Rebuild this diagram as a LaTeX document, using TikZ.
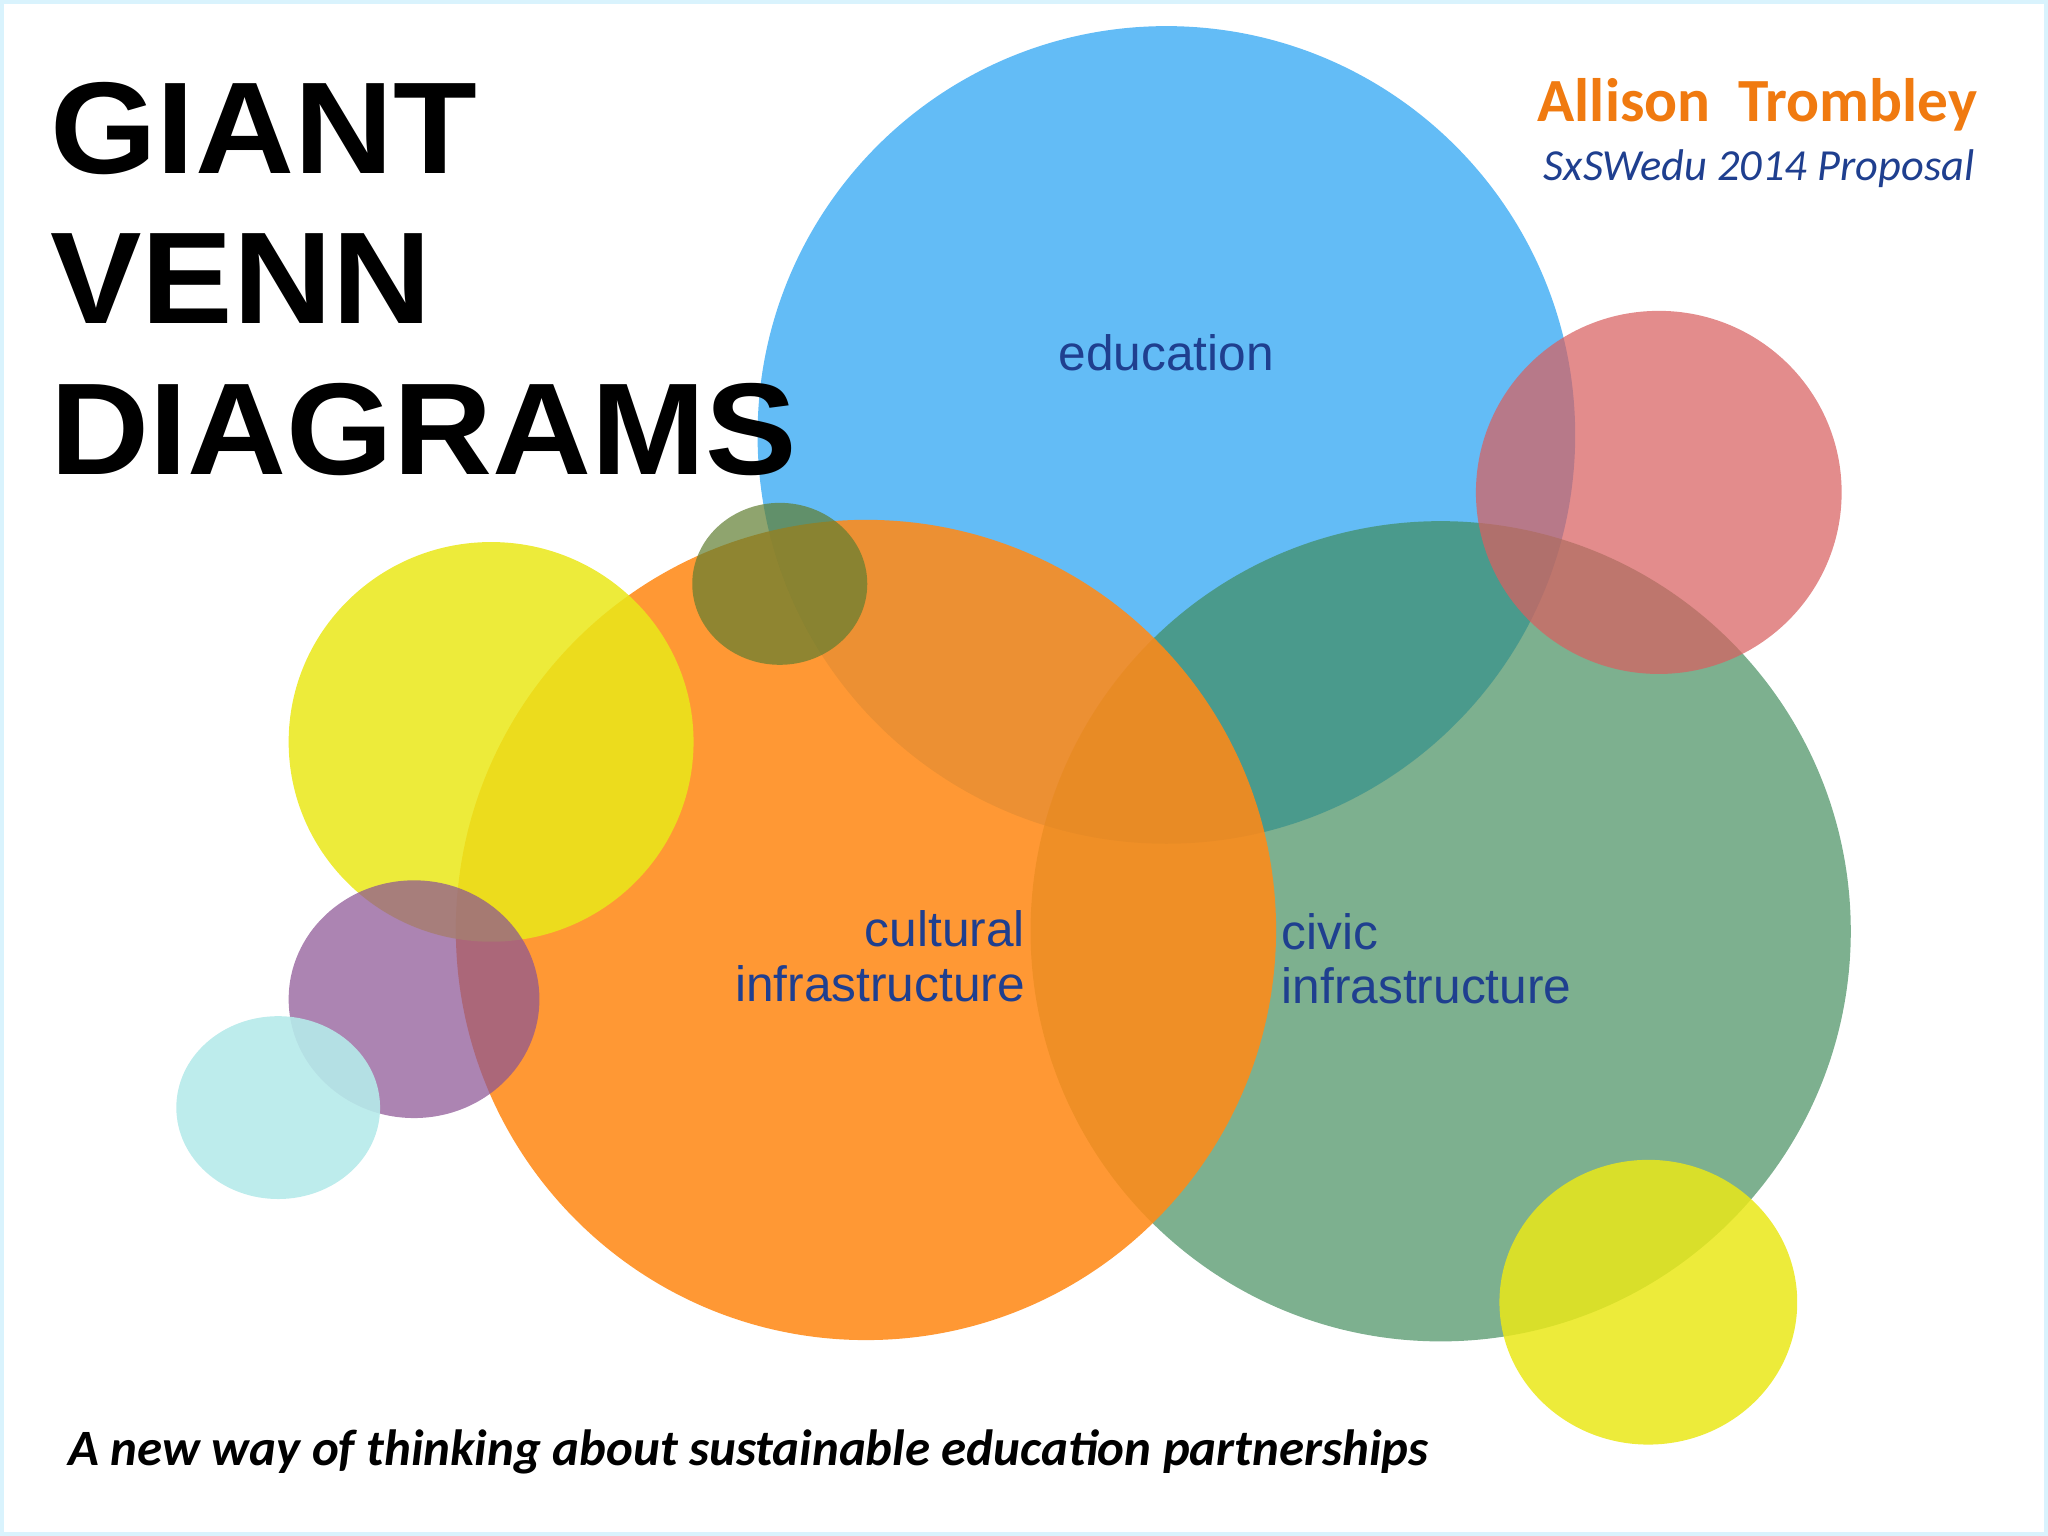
\documentclass[tikz,border=0pt]{standalone}
\usepackage{fontspec}
\setmainfont{Liberation Sans}
\newfontfamily\carfont{Carlito}
\definecolor{cblue}{HTML}{5BB8F5}
\definecolor{corange}{HTML}{FF8A18}
\definecolor{cgreen}{HTML}{3F8A5A}
\definecolor{cpink}{HTML}{D86060}
\definecolor{cyellow}{HTML}{EAE818}
\definecolor{colive}{HTML}{607E30}
\definecolor{cpurple}{HTML}{8C5494}
\definecolor{ccyan}{HTML}{B6EAEA}
\definecolor{ctxt}{HTML}{1F3F8F}
\definecolor{cname}{HTML}{F07A10}
\begin{document}
\begin{tikzpicture}[x=0.5pt,y=-0.5pt,
  lab/.style={text=ctxt,font=\fontsize{19}{21}\selectfont,inner sep=0pt},
  ttl/.style={anchor=base west,inner sep=0pt,xscale=1.05,font=\fontsize{50}{50}\selectfont\bfseries}]
\useasboundingbox (0,0) rectangle (1568,1176);
\draw[cyan!15,line width=2pt] (1,1) rectangle (1567,1175);
\fill[cblue,fill opacity=0.95] (893,333) circle (313);
\fill[cgreen,fill opacity=0.68] (1103,713) circle (314);
\fill[corange,fill opacity=0.88] (663,712) circle (314);
\fill[cpink,fill opacity=0.72] (1270,377) ellipse (140 and 139);
\fill[cyellow,fill opacity=0.85] (376,568) ellipse (155 and 153);
\fill[cyellow,fill opacity=0.85] (1262,997) ellipse (114 and 109);
\fill[colive,fill opacity=0.7] (597,447) ellipse (67 and 62);
\fill[cpurple,fill opacity=0.72] (317,765) ellipse (96 and 91);
\fill[ccyan,fill opacity=0.9] (213,848) ellipse (78 and 70);
\node[ttl] (t1) at (38,133) {GIANT};
\node[ttl] (t2) at (38,248) {VENN};
\node[ttl] (t3) at (38,363) {DIAGRAMS};
\node[lab] (edu) at (893,270) {education};
\node[lab,align=right,anchor=east] (cul) at (785,732) {cultural\\infrastructure};
\node[lab,align=left,anchor=west] (civ) at (981,734) {civic\\infrastructure};
\node[anchor=base east,inner sep=0pt,text=cname,font=\carfont\fontsize{23.5}{25}\selectfont\bfseries] (name) at (1514,93) {Allison\ \ Trombley};
\node[anchor=base east,inner sep=0pt,text=ctxt,font=\carfont\fontsize{17}{19}\selectfont\itshape] (prop) at (1512,138) {SxSWedu 2014 Proposal};
\node[anchor=base west,inner sep=0pt,font=\carfont\fontsize{19.5}{21}\selectfont\bfseries\itshape] (sub) at (52,1122) {A new way of thinking about sustainable education partnerships};
\end{tikzpicture}
\end{document}
